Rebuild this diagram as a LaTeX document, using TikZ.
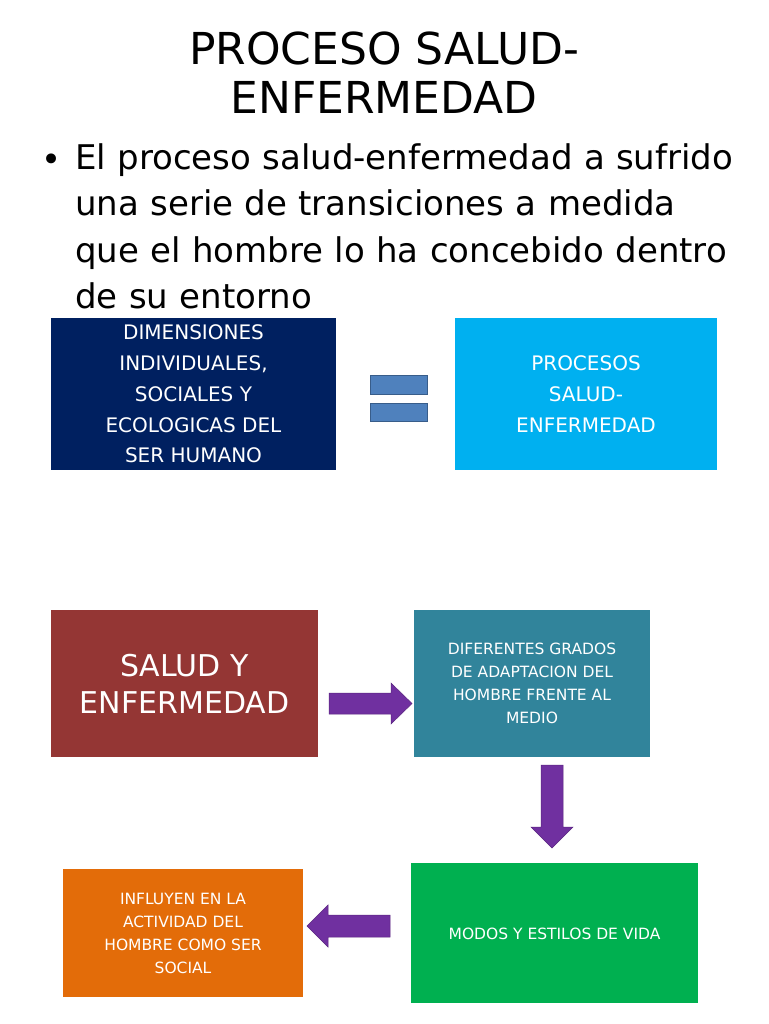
\documentclass[tikz,border=0pt]{standalone}
\usepackage{fontspec}
\setmainfont{DejaVu Sans}
\usetikzlibrary{calc}
\definecolor{navy}{RGB}{0,32,96}
\definecolor{cyanb}{RGB}{0,176,240}
\definecolor{redb}{RGB}{148,54,52}
\definecolor{tealb}{RGB}{49,132,155}
\definecolor{greenb}{RGB}{0,176,80}
\definecolor{orangeb}{RGB}{227,108,9}
\definecolor{purp}{RGB}{112,48,160}
\definecolor{eqf}{RGB}{79,129,189}
\definecolor{eqd}{RGB}{56,93,138}
\tikzset{box/.style={draw=none,text=white,align=center,inner sep=0pt},
 parr/.style={fill=purp,draw=purp!80!black,line width=0.5pt}}
\begin{document}
\begin{tikzpicture}[x=1pt,y=-1pt]
\useasboundingbox (0,0) rectangle (768,1024);
\fill[white] (0,0) rectangle (768,1024);
\node[align=center,font=\fontsize{44}{49}\selectfont] (title) at (384,73) {PROCESO SALUD-\\ENFERMEDAD};
\node[anchor=north west,align=left,text width=660pt,font=\fontsize{34}{46.5}\selectfont,inner sep=0pt] (txt) at (75,143) {El proceso salud-enfermedad a sufrido una serie de transiciones a medida que el hombre lo ha concebido dentro de su entorno};
\node[font=\fontsize{34}{40}\selectfont] (bul) at (52,163) {•};
\fill[navy] (51,318) rectangle (336,470);
\node[box,font=\fontsize{20}{30.8}\selectfont] (a) at (193.5,394) {DIMENSIONES\\INDIVIDUALES,\\SOCIALES Y\\ECOLOGICAS DEL\\SER HUMANO};
\fill[eqf,draw=eqd] (370,375) rectangle (427,394);
\fill[eqf,draw=eqd] (370,403) rectangle (427,421);
\fill[cyanb] (455,318) rectangle (717,470);
\node[box,font=\fontsize{20}{30.8}\selectfont] (b) at (586,394) {PROCESOS\\SALUD-\\ENFERMEDAD};
\fill[redb] (51,610) rectangle (318,757);
\node[box,font=\fontsize{30}{37}\selectfont] (c) at (184.5,684) {SALUD Y\\ENFERMEDAD};
\fill[tealb] (414,610) rectangle (650,757);
\node[box,font=\fontsize{15.5}{23}\selectfont] (d) at (532,683) {DIFERENTES GRADOS\\DE ADAPTACION DEL\\HOMBRE FRENTE AL\\MEDIO};
\fill[greenb] (411,863) rectangle (698,1003);
\node[box,font=\fontsize{15.5}{23}\selectfont] (e) at (554.5,934) {MODOS Y ESTILOS DE VIDA};
\fill[orangeb] (63,869) rectangle (303,997);
\node[box,font=\fontsize{15.5}{23}\selectfont] (f) at (183,933) {INFLUYEN EN LA\\ACTIVIDAD DEL\\HOMBRE COMO SER\\SOCIAL};
\draw[parr] (329,693) -- (391,693) -- (391,683) -- (412,703.5) -- (391,724) -- (391,714) -- (329,714) -- cycle;
\draw[parr] (541,765) -- (563,765) -- (563,827) -- (573,827) -- (552,848) -- (531,827) -- (541,827) -- cycle;
\draw[parr] (390,915) -- (328,915) -- (328,905) -- (307,926) -- (328,947) -- (328,937) -- (390,937) -- cycle;
\end{tikzpicture}
\end{document}
